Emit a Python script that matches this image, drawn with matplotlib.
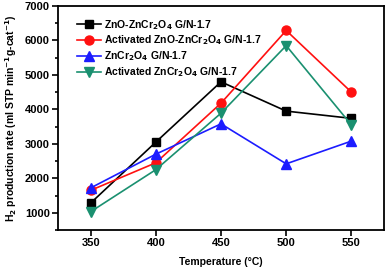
import matplotlib.pyplot as plt
from matplotlib.ticker import MultipleLocator

plt.rcParams['font.family'] = ['Liberation Sans', 'DejaVu Sans']
plt.rcParams['font.weight'] = 'bold'

temps = [350, 400, 450, 500, 550]
zno_zncr = [1280, 3050, 4800, 3950, 3740]
act_zno_zncr = [1650, 2450, 4180, 6290, 4500]
zncr = [1720, 2700, 3580, 2420, 3080]
act_zncr = [1030, 2250, 3890, 5850, 3550]

labels = ["ZnO-ZnCr$_2$O$_4$ G/N-1.7",
          "Activated ZnO-ZnCr$_2$O$_4$ G/N-1.7",
          "ZnCr$_2$O$_4$ G/N-1.7",
          "Activated ZnCr$_2$O$_4$ G/N-1.7"]

fig = plt.figure(figsize=(3.87, 2.69), dpi=100)
ax = fig.add_axes([58/387, 1 - 230/269, 326/387, 224/269])

ax.plot(temps, zno_zncr, color="black", marker="s", ms=6, lw=1.2, label=labels[0])
ax.plot(temps, act_zno_zncr, color="#ff1010", marker="o", ms=6.5, lw=1.2, label=labels[1])
ax.plot(temps, zncr, color="#1c1cff", marker="^", ms=6.5, lw=1.2, label=labels[2])
ax.plot(temps, act_zncr, color="#1a9070", marker="v", ms=6.5, lw=1.2, label=labels[3])

ax.set_xlim(325, 575)
ax.set_ylim(500, 7000)
ax.set_xticks(temps)
ax.yaxis.set_minor_locator(MultipleLocator(500))
ax.tick_params(labelsize=8, width=1.2, length=4, pad=2)
ax.tick_params(which="minor", width=1.2, length=2.5)
for s in ax.spines.values():
    s.set_linewidth(1.3)

ax.set_xlabel("Temperature (\u00b0C)", fontsize=7.5, fontweight="bold", labelpad=6)
ax.set_ylabel("H$_2$ production rate (ml STP min$^{-1}$g-cat$^{-1}$)", fontsize=7.5,
              fontweight="bold", labelpad=4)

ax.legend(loc="upper left", bbox_to_anchor=(0.035, 0.98), frameon=False, fontsize=7.5,
          handlelength=2.3, handletextpad=0.3, labelspacing=0.2, borderaxespad=0.3)

fig.savefig("out.png", dpi=100)
